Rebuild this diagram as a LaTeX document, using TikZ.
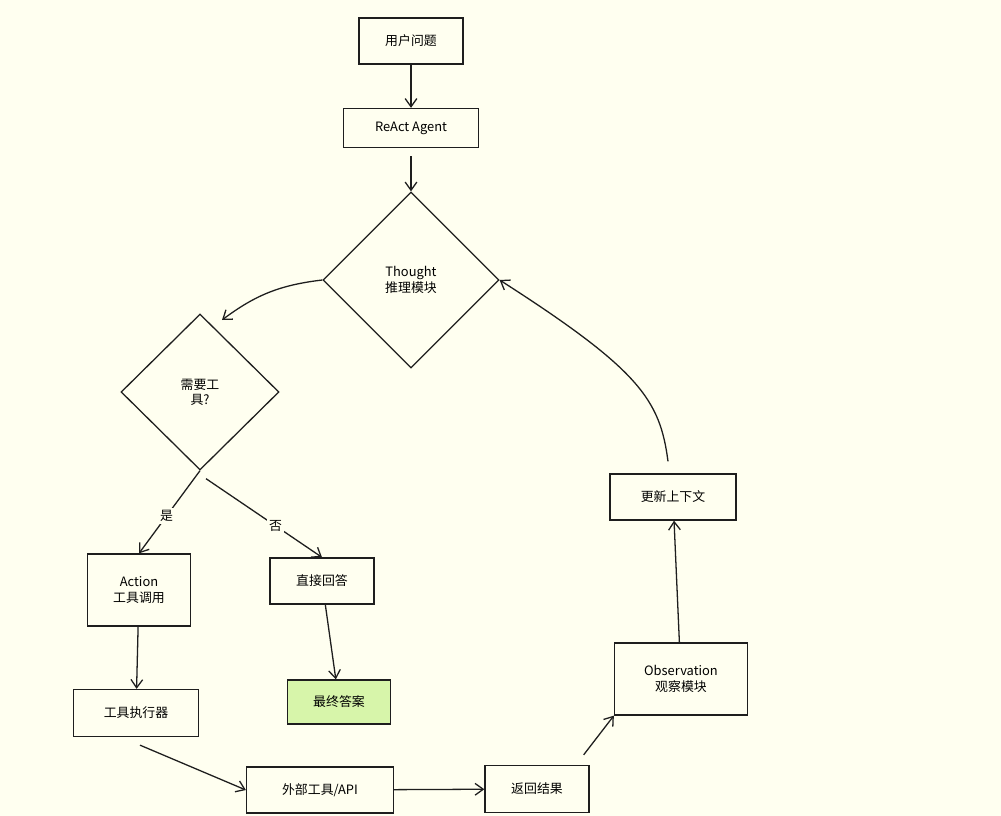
\documentclass[tikz,border=0pt]{standalone}
\usepackage{fontspec}
\setmainfont{Noto Sans CJK SC}
\usetikzlibrary{shapes.geometric,arrows.meta}
\definecolor{bg}{RGB}{255,255,240}
\definecolor{ink}{RGB}{30,30,30}
\definecolor{okfill}{RGB}{215,245,170}
\begin{document}
\begin{tikzpicture}[x=0.03cm,y=-0.03cm,
  box/.style={draw=ink,line width=1.1pt,inner sep=0pt,font=\fontsize{11}{13}\selectfont,align=center},
  dia/.style={draw=ink,line width=1.1pt,diamond,inner sep=0pt,font=\fontsize{11}{13}\selectfont,align=center},
  arr/.style={draw=ink,line width=1.1pt,-{Straight Barb[length=7pt,width=10pt]}},
  lab/.style={fill=bg,font=\fontsize{11}{13}\selectfont,inner sep=2pt}]
\fill[bg] (0,0) rectangle (1001,816);
\useasboundingbox (0,0) rectangle (1001,816);
\node[box,minimum width=104*0.03cm,minimum height=46*0.03cm] (q) at (411,41) {用户问题};
\node[box,minimum width=135*0.03cm,minimum height=39*0.03cm] (ag) at (411,128) {ReAct Agent};
\node[dia,minimum width=176*0.03cm,minimum height=176*0.03cm] (th) at (411,280) {Thought\\推理模块};
\node[dia,minimum width=158*0.03cm,minimum height=156*0.03cm] (nd) at (200,392) {需要工\\具?};
\node[box,minimum width=103*0.03cm,minimum height=72*0.03cm] (ac) at (139,590) {Action\\工具调用};
\node[box,minimum width=104*0.03cm,minimum height=46*0.03cm] (dr) at (322,581) {直接回答};
\node[box,fill=okfill,minimum width=103*0.03cm,minimum height=44*0.03cm] (fa) at (339,702) {最终答案};
\node[box,minimum width=125*0.03cm,minimum height=47*0.03cm] (ex) at (136,713) {工具执行器};
\node[box,minimum width=147*0.03cm,minimum height=46*0.03cm] (api) at (320,790) {外部工具/API};
\node[box,minimum width=104*0.03cm,minimum height=47*0.03cm] (rr) at (537,789) {返回结果};
\node[box,minimum width=133*0.03cm,minimum height=72*0.03cm] (ob) at (681,679) {Observation\\观察模块};
\node[box,minimum width=126*0.03cm,minimum height=46*0.03cm] (up) at (673,497) {更新上下文};
\draw[arr] (q) -- (ag);
\draw[arr] (ag.south) ++(0,8) coordinate (a1) (a1) -- (th.north);
\draw[arr] (th.west) to[bend right=15] (222,320) coordinate (n1);
\draw[arr] (nd.south) -- node[lab,pos=0.55] {是} (ac.north);
\draw[arr] (nd.south) ++(6,8) coordinate (n2) (n2) -- node[lab,pos=0.6] {否} (dr.north);
\draw[arr] (dr) -- (fa);
\draw[arr] (ac) -- (ex);
\draw[arr] (ex.south) ++(4,8) coordinate (e1) (e1) -- (api.west);
\draw[arr] (api) -- (rr);
\draw[arr] (rr.north east) ++(-6,-10) coordinate (r1) (r1) -- (ob.south west);
\draw[arr] (ob) -- (up);
\draw[arr] (up.north) ++(-5,-12) coordinate (u1) (u1) .. controls (660,400) and (640,370) .. (th.east);
\end{tikzpicture}
\end{document}
